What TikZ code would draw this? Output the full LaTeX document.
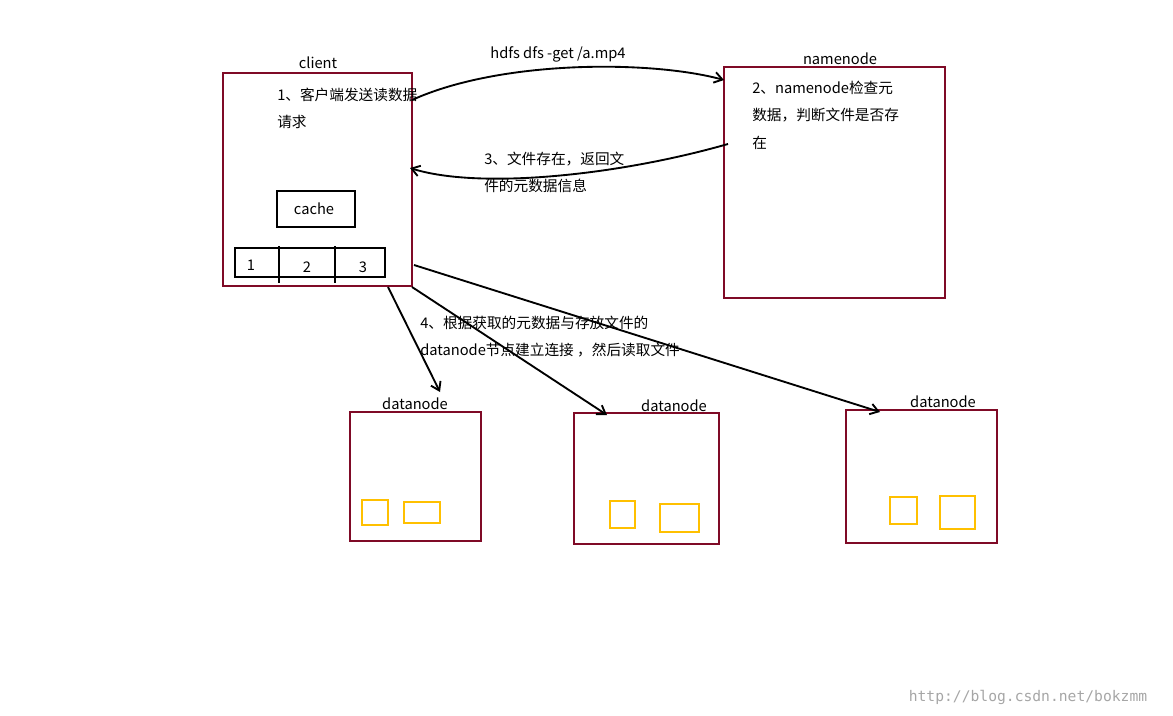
\documentclass[tikz,border=0pt]{standalone}
\usepackage{fontspec}
\setmainfont{Noto Sans CJK SC}
\setmonofont{DejaVu Sans Mono}
\usetikzlibrary{arrows.meta}
\definecolor{dred}{HTML}{7F0A26}
\definecolor{ylw}{HTML}{FFC000}
\begin{document}
\begin{tikzpicture}[x=0.75pt,y=-0.75pt,
  redbox/.style={draw=dred,line width=2.2pt},
  blkbox/.style={draw=black,line width=1.6pt},
  ybox/.style={draw=ylw,line width=1.6pt},
  lbl/.style={font=\fontsize{11}{13}\selectfont,inner sep=0pt},
  txt/.style={font=\fontsize{11}{13}\selectfont,inner sep=0pt,anchor=west},
  arr/.style={line width=1.4pt,-{Straight Barb[length=6pt,width=8pt]}}]
\useasboundingbox (0,0) rectangle (1173,716);
% client
\draw[redbox] (223,73) rectangle (412,286);
\node[lbl] (clientlbl) at (318,63) {client};
\node[txt] (t1a) at (277,95) {1、客户端发送读数据};
\node[txt] (t1b) at (277,122) {请求};
\draw[blkbox] (277,191) rectangle (355,227);
\node[lbl] (cache) at (314,209) {cache};
\draw[blkbox] (235,248) rectangle (385,277);
\draw[blkbox] (279,246) -- (279,283);
\draw[blkbox] (335,246) -- (335,283);
\node[lbl] (b1) at (251,265) {1};
\node[lbl] (b2) at (307,267) {2};
\node[lbl] (b3) at (363,267) {3};
% namenode
\draw[redbox] (724,67) rectangle (945,298);
\node[lbl] (nnlbl) at (840,59) {namenode};
\node[txt] (t2a) at (752,88) {2、namenode检查元};
\node[txt] (t2b) at (752,115) {数据，判断文件是否存};
\node[txt] (t2c) at (752,143) {在};
% arrows client-namenode
\coordinate (c1) at (412,100);
\coordinate (n1) at (724,80);
\draw[arr] (c1) .. controls (500,60) and (650,60) .. (n1);
\node[lbl] (cmd) at (558,54) {hdfs dfs -get /a.mp4};
\coordinate (n2) at (728,144);
\coordinate (c2) at (410,168);
\draw[arr] (n2) .. controls (620,175) and (480,190) .. (c2);
\node[txt] (t3a) at (484,159) {3、文件存在，返回文};
\node[txt] (t3b) at (484,186) {件的元数据信息};
% datanodes
\draw[redbox] (350,412) rectangle (481,541);
\node[lbl] (d1lbl) at (415,404) {datanode};
\draw[ybox] (362,500) rectangle (388,525);
\draw[ybox] (404,502) rectangle (440,523);
\draw[redbox] (574,413) rectangle (719,544);
\node[lbl] (d2lbl) at (674,406) {datanode};
\draw[ybox] (610,501) rectangle (635,528);
\draw[ybox] (660,504) rectangle (699,532);
\draw[redbox] (846,410) rectangle (997,543);
\node[lbl] (d3lbl) at (943,402) {datanode};
\draw[ybox] (890,497) rectangle (917,524);
\draw[ybox] (940,496) rectangle (975,529);
% arrows to datanodes
\coordinate (s1) at (388,287); \coordinate (e1) at (440,392);
\coordinate (s2) at (412,287); \coordinate (e2) at (607,415);
\coordinate (s3) at (414,265); \coordinate (e3) at (880,412);
\draw[arr] (s1) -- (e1);
\draw[arr] (s2) -- (e2);
\draw[arr] (s3) -- (e3);
\node[txt] (t4a) at (420,323) {4、根据获取的元数据与存放文件的};
\node[txt] (t4b) at (420,350) {datanode节点建立连接 ，然后读取文件};
\node[lbl,text=gray!70,font=\ttfamily\fontsize{11}{13}\selectfont] (wm) at (1028,697) {http://blog.csdn.net/bokzmm};
\end{tikzpicture}
\end{document}
